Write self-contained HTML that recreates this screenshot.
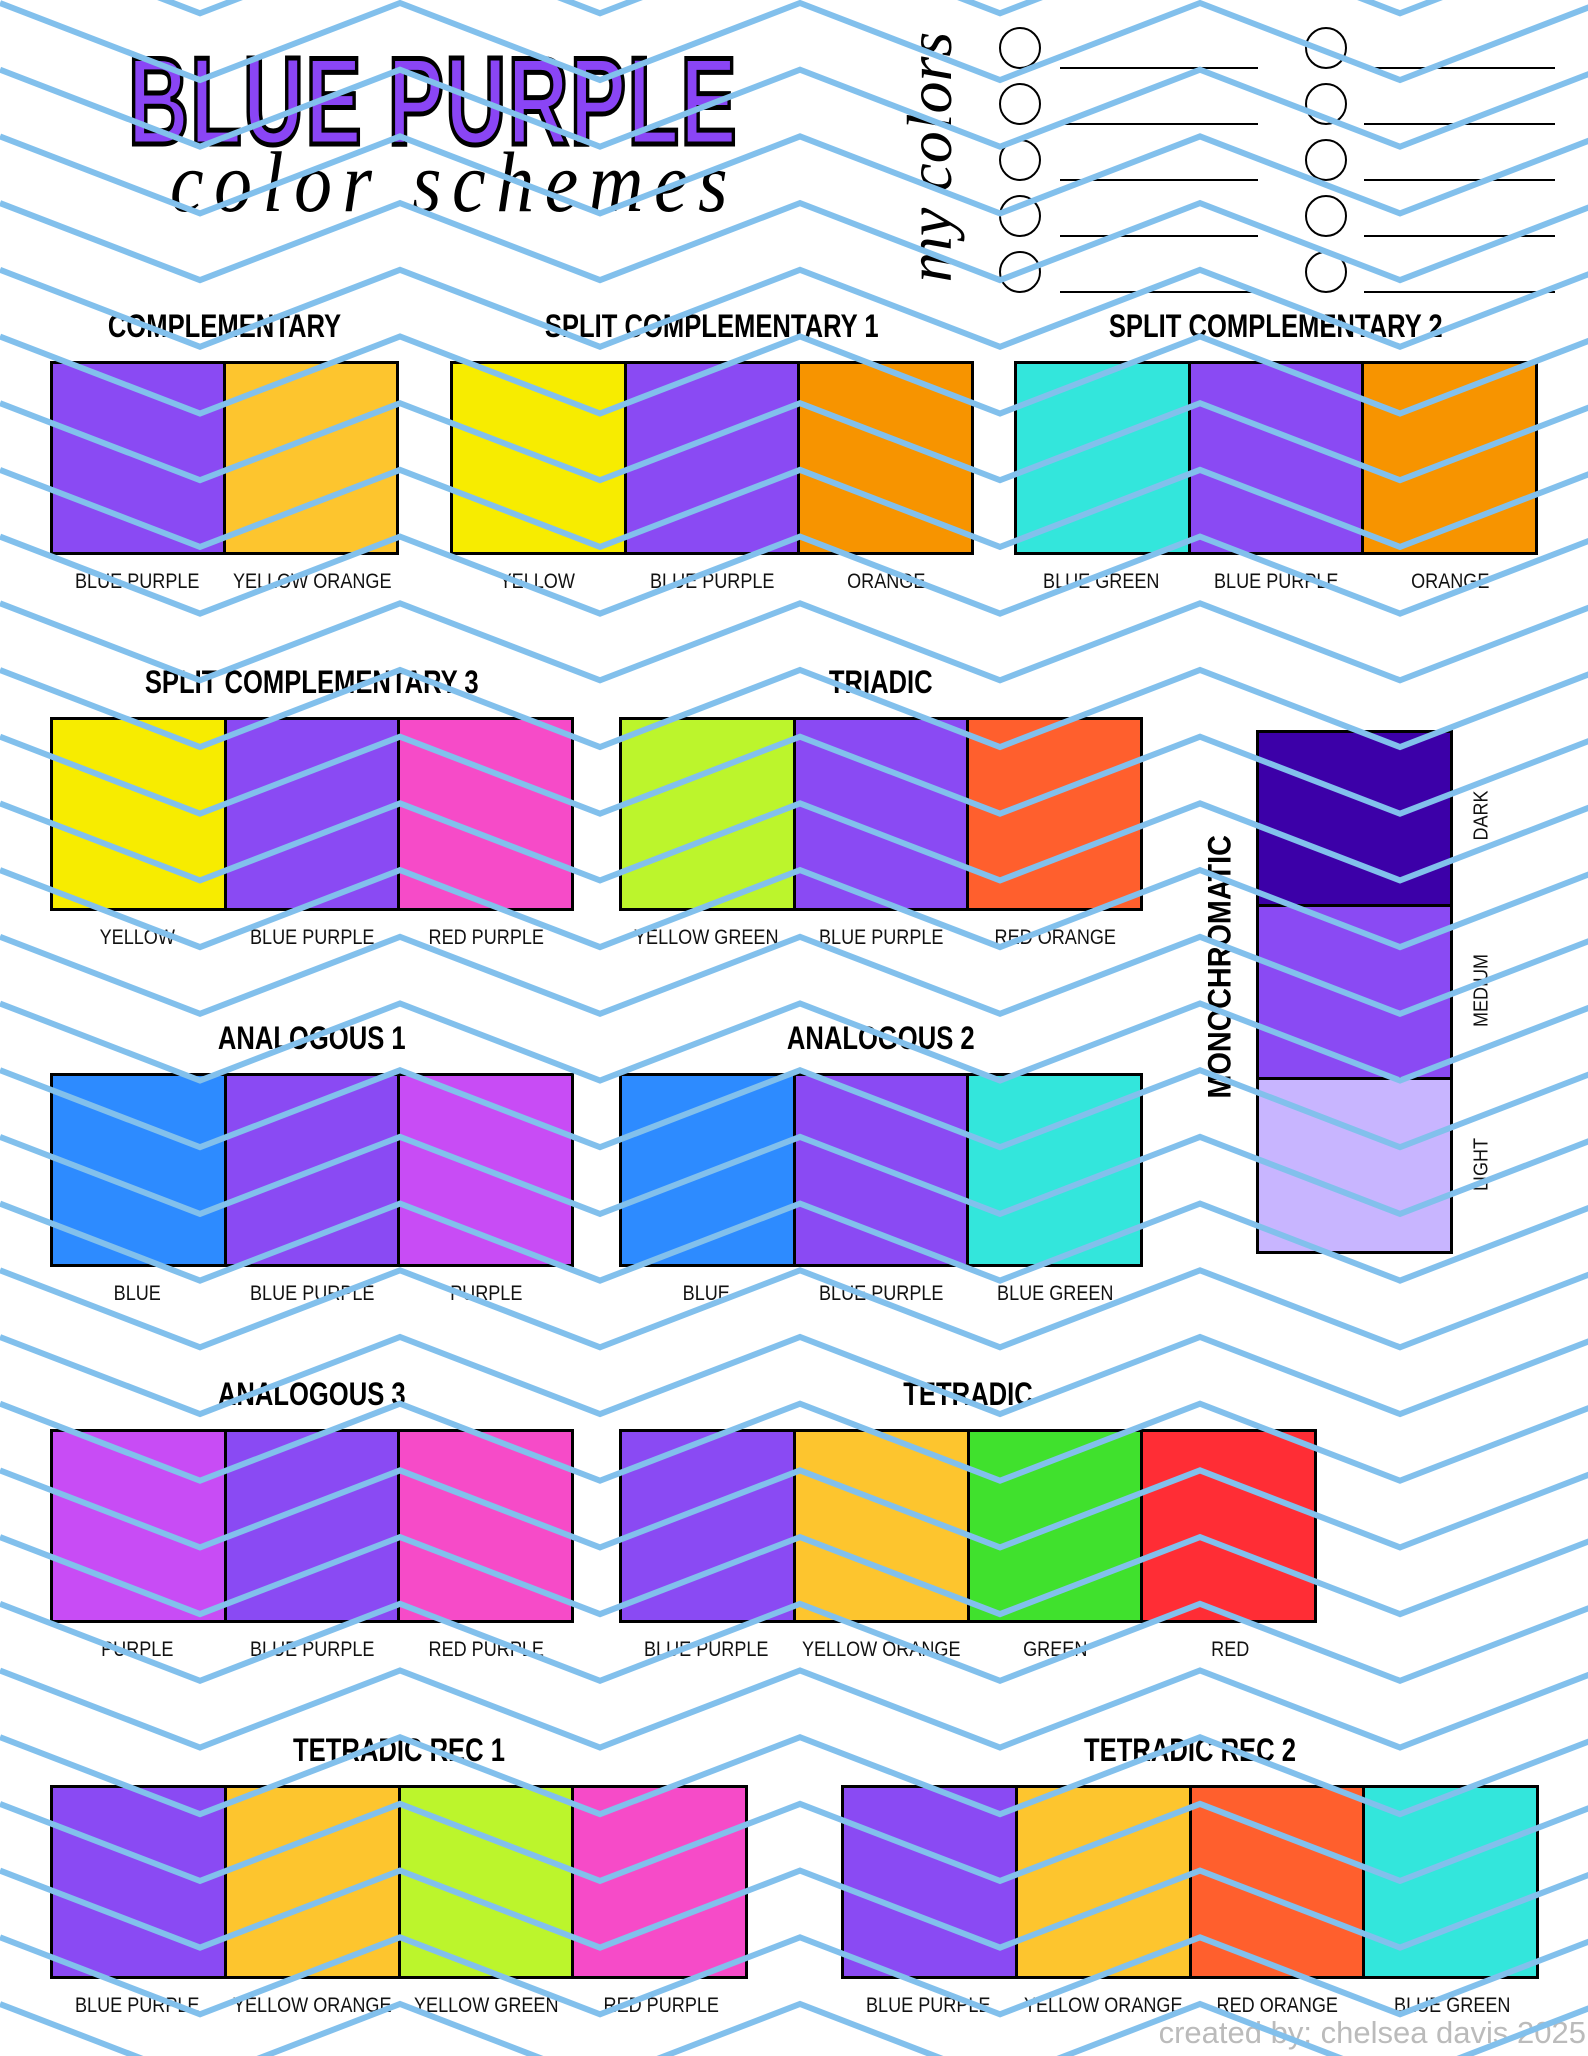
<!DOCTYPE html>
<html><head><meta charset="utf-8"><style>
html,body{margin:0;padding:0;background:#fff}
#page{position:relative;width:1588px;height:2056px;overflow:hidden;background:#fff;font-family:"Liberation Sans",sans-serif}
.title{position:absolute;font-weight:bold;font-size:32px;color:#000;text-align:center;white-space:nowrap;transform:scaleX(0.8)}
.lbl{position:absolute;font-size:21px;color:#111;text-align:center;white-space:nowrap;transform:scaleX(0.86)}
.sw{position:absolute;border:3px solid #000;box-sizing:border-box;display:flex}
.cell{flex:1;border-right:3px solid #000}
.cell:last-child{border-right:none}
svg{position:absolute;left:0;top:0}
</style></head><body>
<div id="page">
  <div style="position:absolute;left:128px;top:40px;font-family:'Liberation Sans',sans-serif;font-weight:bold;font-size:124px;line-height:124px;color:#8a45f5;-webkit-text-stroke:5px #000;letter-spacing:2px;transform:scaleX(0.68);transform-origin:left;white-space:nowrap">BLUE PURPLE</div>
  <div style="position:absolute;left:170px;top:132px;font-family:'Liberation Serif',serif;font-style:italic;font-size:86px;line-height:100px;color:#000;letter-spacing:12px;transform:scaleX(0.88);transform-origin:left;white-space:nowrap">color schemes</div>
  <div style="position:absolute;left:800px;top:122px;width:260px;text-align:center;transform:rotate(-90deg);font-family:'Liberation Serif',serif;font-style:italic;font-size:64px;line-height:70px;color:#000;white-space:nowrap">my colors</div>
  <div id="swatches"></div>
  <div class="title" style="left:1100px;top:972px;width:240px;transform:rotate(-90deg) scaleX(0.9)">MONOCHROMATIC</div>
  <div style="position:absolute;left:1080px;top:2015px;width:506px;text-align:right;font-family:'Liberation Sans',sans-serif;font-size:31px;color:#bbb;white-space:nowrap">created by: chelsea davis 2025</div>
  <svg id="overlay" width="1588" height="2056"></svg>
</div>
<script>
const schemeNames=["COMPLEMENTARY","SPLIT COMPLEMENTARY 1","SPLIT COMPLEMENTARY 2","SPLIT COMPLEMENTARY 3","TRIADIC","ANALOGOUS 1","ANALOGOUS 2","ANALOGOUS 3","TETRADIC","TETRADIC REC 1","TETRADIC REC 2"];
const schemeColors=[["#8a4af3","#fdc52e"],["#f7ec00","#8a4af3","#f79400"],["#33e6dc","#8a4af3","#f79400"],["#f7ec00","#8a4af3","#f64bc8"],["#bcf52c","#8a4af3","#ff5f2d"],["#2d8bff","#8a4af3","#c84cf5"],["#2d8bff","#8a4af3","#33e6dc"],["#c84cf5","#8a4af3","#f64bc8"],["#8a4af3","#fdc52e","#40e12d","#ff2d35"],["#8a4af3","#fdc52e","#bcf52c","#f64bc8"],["#8a4af3","#fdc52e","#ff5f2d","#33e6dc"]];
const schemeLabels=[["BLUE PURPLE","YELLOW ORANGE"],["YELLOW","BLUE PURPLE","ORANGE"],["BLUE GREEN","BLUE PURPLE","ORANGE"],["YELLOW","BLUE PURPLE","RED PURPLE"],["YELLOW GREEN","BLUE PURPLE","RED ORANGE"],["BLUE","BLUE PURPLE","PURPLE"],["BLUE","BLUE PURPLE","BLUE GREEN"],["PURPLE","BLUE PURPLE","RED PURPLE"],["BLUE PURPLE","YELLOW ORANGE","GREEN","RED"],["BLUE PURPLE","YELLOW ORANGE","YELLOW GREEN","RED PURPLE"],["BLUE PURPLE","YELLOW ORANGE","RED ORANGE","BLUE GREEN"]];
const schemeX=[50,450,1014,50,619,50,619,50,619,50,841];
const schemeRow=[0,0,0,1,1,2,2,3,3,4,4];
const rowTop=[361,717,1073,1429,1785];
const monoShades=["#3c00a8","#8a4af3","#c8b5ff"];
const monoLabels=["DARK","MEDIUM","LIGHT"];
const CW=174.5,CH=194;
const host=document.getElementById('swatches');
schemeNames.forEach((nm,i)=>{
  const x=schemeX[i],y=rowTop[schemeRow[i]],n=schemeColors[i].length,w=CW*n;
  const t=document.createElement('div');t.className='title';
  
  
  t.style.cssText=`left:${x}px;top:${y-53}px;width:${w}px`;t.textContent=nm;host.appendChild(t);
  const s=document.createElement('div');s.className='sw';
  
  
  s.style.cssText=`left:${x}px;top:${y}px;width:${w}px;height:${CH}px`;
  schemeColors[i].forEach((c,j)=>{
    const d=document.createElement('div');d.className='cell';d.style.background=c;
    
    
    s.appendChild(d);
    const l=document.createElement('div');l.className='lbl';
    
    
    l.style.cssText=`left:${x+j*CW-10}px;top:${y+CH+15}px;width:${CW+20}px`;l.textContent=schemeLabels[i][j];host.appendChild(l);
  });
  host.appendChild(s);
});
const mono=document.createElement('div');mono.className='sw';


mono.style.cssText='left:1256px;top:730px;width:197px;height:524px;flex-direction:column';
monoShades.forEach((c,j)=>{
  const d=document.createElement('div');d.style.cssText=`flex:1;background:${c};border-bottom:${j<2?3:0}px solid #000`;
  
  
  mono.appendChild(d);
  const l=document.createElement('div');l.className='lbl';
  
  
  l.style.cssText=`left:${1432}px;top:${730+j*174.7+74}px;width:100px;transform:rotate(-90deg) scaleX(0.9);font-size:20px`;l.textContent=monoLabels[j];host.appendChild(l);
});
host.appendChild(mono);
const NS='http://www.w3.org/2000/svg',svg=document.getElementById('overlay');
const cx=[1020,1326],cy=[48,104,160,216,272],lx=[[1060,1258],[1364,1555]],ly=[68,124,180,236,292];
cx.forEach((x,c)=>cy.forEach((y,r)=>{
  const ci=document.createElementNS(NS,'circle');ci.setAttribute('cx',x);ci.setAttribute('cy',y);ci.setAttribute('r',20);ci.setAttribute('fill','none');ci.setAttribute('stroke','#000');ci.setAttribute('stroke-width',2);
  
  
  svg.appendChild(ci);
  const ln=document.createElementNS(NS,'line');ln.setAttribute('x1',lx[c][0]);ln.setAttribute('x2',lx[c][1]);ln.setAttribute('y1',ly[r]);ln.setAttribute('y2',ly[r]);ln.setAttribute('stroke','#000');ln.setAttribute('stroke-width',2);
  
  
  svg.appendChild(ln);
}));
for(let k=-2;k<32;k++){
  const y0=3+66.7*k;let pts=[];
  for(let i=0;i<=9;i++)pts.push((i*200)+','+(y0+(i%2?77:0)));
  const p=document.createElementNS(NS,'polyline');p.setAttribute('points',pts.join(' '));p.setAttribute('fill','none');p.setAttribute('stroke','#82c0ec');p.setAttribute('stroke-width',6);
  
  
  svg.appendChild(p);
}
</script>
</body></html>
